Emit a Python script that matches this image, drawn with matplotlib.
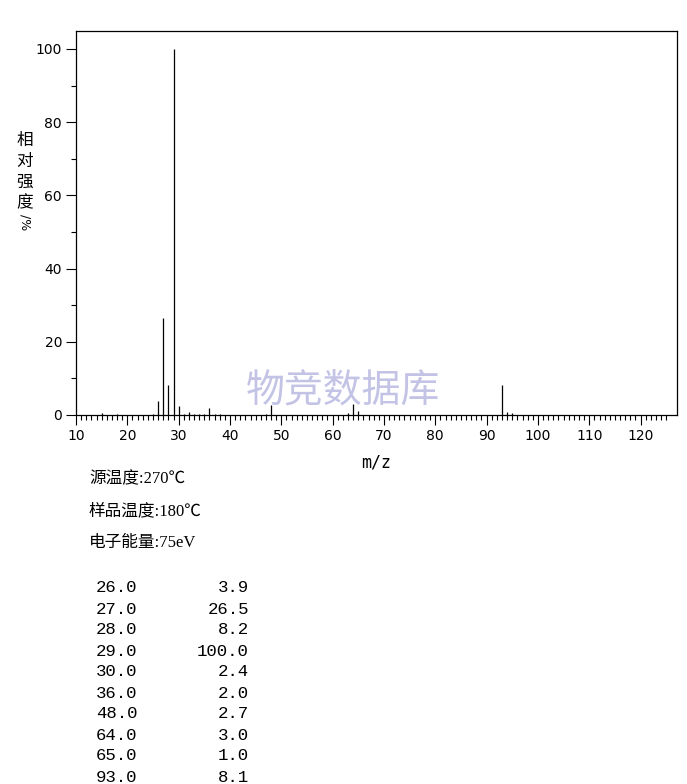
import numpy as np
import matplotlib.pyplot as plt
from matplotlib.ticker import FixedLocator, MultipleLocator

# Mass spectrum: listed peaks (m/z, relative intensity %)
mz = [26, 27, 28, 29, 30, 36, 48, 64, 65, 93]
intensity = [3.9, 26.5, 8.2, 100.0, 2.4, 2.0, 2.7, 3.0, 1.0, 8.1]

# small unlisted peaks visible on the plot
mz_small = [15, 18, 25, 31, 32, 33, 34, 35, 37, 38, 47, 63, 94, 95]
int_small = [0.6, 0.3, 0.4, 0.3, 0.7, 0.3, 0.3, 0.4, 0.4, 0.4, 0.4, 0.5, 0.9, 0.5]

conditions = ['源温度:270℃', '样品温度:180℃', '电子能量:75eV']
ylabel_chars = ['相', '对', '强', '度']

W, H = 687, 784
fig = plt.figure(figsize=(W / 100, H / 100), dpi=100)
ax = fig.add_axes([76 / W, 1 - 415 / H, (677 - 76) / W, (415 - 31) / H])

ax.vlines(mz, 0, intensity, colors='black', linewidth=0.9)
ax.vlines(mz_small, 0, int_small, colors='black', linewidth=0.9)

ax.set_xlim(10, 127.1)
ax.set_ylim(0, 104.9)

ax.xaxis.set_major_locator(FixedLocator(np.arange(10, 121, 10)))
ax.xaxis.set_minor_locator(FixedLocator(np.arange(10, 126, 1)))
ax.yaxis.set_major_locator(MultipleLocator(20))
ax.yaxis.set_minor_locator(MultipleLocator(10))
ax.tick_params(axis='both', which='major', length=7, width=0.8, direction='out',
               labelsize=10, pad=3, color='black')
ax.tick_params(axis='both', which='minor', length=3.6, width=0.8, direction='out')
for s in ax.spines.values():
    s.set_linewidth(0.9)

# watermark
fig.text(343 / W, 1 - 392 / H, '物竞数据库', fontsize=28, color='#c3c3e6',
         family=['Noto Sans CJK SC'], ha='center', va='center', zorder=0)

# y label, stacked characters
for i, ch in enumerate(ylabel_chars):
    fig.text(25 / W, 1 - (140 + 21 * i) / H, ch, fontsize=12,
             family=['Noto Sans CJK SC'], ha='center', va='center')
fig.text(25 / W, 1 - 222 / H, '/%', fontsize=9, rotation=270, family=['DejaVu Sans'],
         ha='center', va='center')
fig.text(376 / W, 1 - 463 / H, 'm/z', fontsize=12, family=['DejaVu Sans Mono'],
         ha='center', va='center')

# acquisition conditions
for i, line in enumerate(conditions):
    fig.text(89 / W, 1 - (479 + 32 * i) / H, line, fontsize=12,
             family=['Liberation Serif', 'Noto Sans CJK SC'], ha='left', va='center')

# peak table
for i, (m, v) in enumerate(zip(mz, intensity)):
    y = 1 - (588 + 21 * i) / H
    fig.text(96 / W, y, '%.1f' % m, fontsize=12.5, family=['Liberation Mono'],
             ha='left', va='center')
    fig.text(249 / W, y, '%.1f' % v, fontsize=12.5, family=['Liberation Mono'],
             ha='right', va='center')

fig.savefig('out.png', dpi=100)
